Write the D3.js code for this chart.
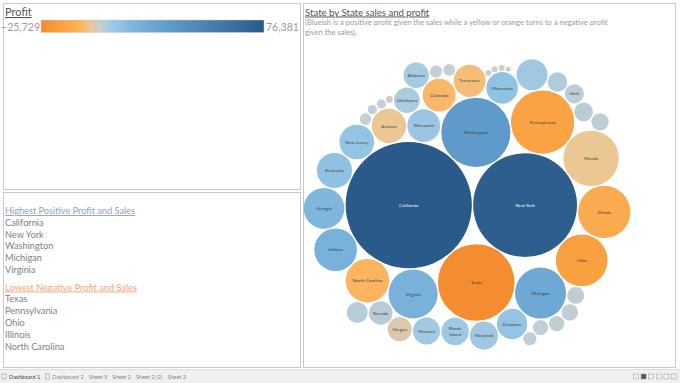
<!DOCTYPE html>
<html><head><meta charset="utf-8">
<script src="https://cdn.jsdelivr.net/npm/d3@7"></script>
<style>
html,body{margin:0;padding:0;background:#fff;overflow:hidden;}
svg{display:block;font-family:Lato,"Open Sans",sans-serif;}
</style></head>
<body><svg id="c" width="680" height="383"></svg>
<script>
// ---- data ----
const states = ["California","New York","Texas","Washington","Pennsylvania","Florida","Illinois","Ohio","Michigan","Virginia","North Carolina","Indiana","Georgia","Kentucky","New Jersey","Arizona","Wisconsin","Colorado","Tennessee","Minnesota","Massachusetts","Delaware","Maryland","Rhode Island","Missouri","Oklahoma","Alabama","Oregon","Nevada","Connecticut","Arkansas","Utah","Mississippi","Louisiana","Vermont","South Carolina","Nebraska","New Hampshire","Montana","New Mexico","Iowa","Idaho","Kansas","District of Columbia","Wyoming","South Dakota","Maine","West Virginia","North Dakota"];
const sales = [457688,310876,170188,138641,116512,89474,80166,78258,76270,70637,55603,53555,49096,36592,35764,35282,32115,32108,30662,29863,28634,27451,23706,22628,22205,19683,19511,17431,16729,13384,11678,11220,10771,9217,8929,8482,7465,7293,5589,4784,4580,4382,2914,2865,1603,1316,1271,1210,920];
const profit = [76381,74039,-25729,33403,-15560,-3399,-12608,-16971,24463,18598,-7491,18383,16250,11200,9773,-3428,8402,-6528,-5342,10823,6786,9977,7031,7286,6436,4854,5787,-1190,3317,3511,4009,2547,3172,2196,2245,1769,2037,1707,1833,1157,1184,827,836,1060,100,395,454,186,230];
const profitStops = [-25729,-16000,-7000,-3400,-1200,800,3300,5500,10000,18000,33000,76381];
const colorStops = ["#f48d2f","#f9a243","#fbb663","#ebc793","#dbc9ac","#c6cfd3","#b8ccd8","#a6cae2","#93c4e4","#79b2da","#5f9bcb","#2a5a8a"];
const topList = ["California","New York","Washington","Michigan","Virginia"];
const bottomList = ["Texas","Pennsylvania","Ohio","Illinois","North Carolina"];
const tabs = ["Dashboard 1","Dashboard 2","Sheet 5","Sheet 2","Sheet 2 (2)","Sheet 3"];
const legendTitle = "Profit";
const chartTitle = "State by State sales and profit";
const subtitle = ["(Blueish is a positive profit given the sales while a yellow or orange turns to a negative profit","given the sales)."];

// ---- drawing ----
const svg = d3.select("#c");
const color = d3.scaleLinear().domain(profitStops).range(colorStops).interpolate(d3.interpolateRgb).clamp(true);

// panels
const panelStroke = "#c9c9c9";
svg.append("rect").attr("x",3.5).attr("y",3.5).attr("width",297).attr("height",186).attr("fill","#fff").attr("stroke",panelStroke);
svg.append("rect").attr("x",3.5).attr("y",192.5).attr("width",297).attr("height",175).attr("fill","#fff").attr("stroke",panelStroke);
svg.append("rect").attr("x",303.5).attr("y",3.5).attr("width",372).attr("height",364).attr("fill","#fff").attr("stroke",panelStroke);

// legend
svg.append("text").attr("x",5).attr("y",16).attr("font-size",11).attr("fill","#555").attr("text-decoration","underline").text(legendTitle);
const defs = svg.append("defs");
const grad = defs.append("linearGradient").attr("id","lg").attr("x1","0%").attr("x2","100%");
const lx = d3.scaleLinear().domain([profitStops[0], profitStops[profitStops.length-1]]).range([41,264]);
const pd = lx.domain();
d3.range(0,1.0001,0.02).forEach(t=>{
  const v = pd[0] + t*(pd[1]-pd[0]);
  grad.append("stop").attr("offset",(t*100)+"%").attr("stop-color",color(v));
});
svg.append("rect").attr("x",lx.range()[0]).attr("y",20).attr("width",lx.range()[1]-lx.range()[0]).attr("height",12.5).attr("fill","url(#lg)").attr("stroke","#ccc").attr("stroke-width",0.5);
const fmt = d3.format(",");
svg.append("text").attr("x",lx.range()[0]-1).attr("y",30.5).attr("text-anchor","end").attr("font-size",10.5).attr("fill","#999").text(fmt(pd[0]));
svg.append("text").attr("x",lx.range()[1]+2).attr("y",30.5).attr("font-size",10.5).attr("fill","#999").text(fmt(pd[1]));

// text lists
const listY = d3.scaleLinear().domain([0,1]).range([0,11.8]);
function list(title, items, y0, col){
  svg.append("text").attr("x",5).attr("y",y0).attr("font-size",9.2).attr("fill",col).attr("text-decoration","underline").text(title);
  svg.selectAll(null).data(items).enter().append("text")
    .attr("x",5).attr("y",(d,i)=>y0+listY(i+1)).attr("font-size",9.2).attr("fill","#808080").text(d=>d);
}
list("Highest Positive Profit and Sales", topList, 214, "#8ea2bb");
list("Lowest Negative Profit and Sales", bottomList, 290.5, "#f2a67c");

// chart title
svg.append("text").attr("x",305).attr("y",15.5).attr("font-size",9.6).attr("fill","#555").attr("text-decoration","underline").text(chartTitle);
subtitle.forEach((s,i)=>svg.append("text").attr("x",305).attr("y",25+i*10.3).attr("font-size",7.55).attr("fill","#9a9a9a").text(s));

// ---- packed bubble layout (front-chain, nearest-to-origin) ----
function packFrontChain(nodes){
  const intersects = (a,b)=>{ const dr=a.r+b.r-1e-6, dx=b.x-a.x, dy=b.y-a.y; return dr>0 && dr*dr>dx*dx+dy*dy; };
  const place = (a,b,c)=>{
    const dx=b.x-a.x, dy=b.y-a.y, D=Math.sqrt(dx*dx+dy*dy);
    const ra=a.r+c.r, rb=b.r+c.r;
    const along=(ra*ra-rb*rb+D*D)/(2*D);
    const h=Math.sqrt(Math.max(0,ra*ra-along*along));
    const ux=dx/D, uy=dy/D;
    c.x=a.x+along*ux-h*uy; c.y=a.y+along*uy+h*ux;
  };
  const n=nodes.length;
  const A=nodes[0], B=nodes[1];
  A.x=-A.r; A.y=0; B.x=B.r; B.y=0;
  if(n<3){return;}
  const C=nodes[2];
  place(A,B,C);
  A.next=C; C.prev=A; C.next=B; B.prev=C; B.next=A; A.prev=B;
  let head=C;
  for(let i=3;i<n;i++){
    const c=nodes[i];
    let m=head, best=Infinity, p=head;
    do { const d=p.x*p.x+p.y*p.y; if(d<best){best=d;m=p;} p=p.next; } while(p!==head);
    let a=m, b=m.next;
    for(let guard=0; guard<500; guard++){
      place(a,b,c);
      let j=b.next, k=a.prev, sj=b.r, sk=a.r, hit=false;
      do {
        if(sj<=sk){
          if(intersects(j,c)){ b=j; a.next=b; b.prev=a; hit=true; break; }
          sj+=j.r; j=j.next;
        } else {
          if(intersects(k,c)){ a=k; a.next=b; b.prev=a; hit=true; break; }
          sk+=k.r; k=k.prev;
        }
      } while(j!==k.next);
      if(!hit) break;
    }
    a.next=c; c.prev=a; c.next=b; b.prev=c;
    head=c;
  }
}

const pad = 0.25, inset = 0.4;
const rScale = d3.scaleSqrt().domain([0, d3.max(sales)]).range([0, 63.5]);
const nodes = states.map((s,i)=>({name:s, sales:sales[i], profit:profit[i], rr:rScale(sales[i])}))
  .sort((a,b)=>b.sales-a.sales);
nodes.forEach(n=>n.r = n.rr + pad);
packFrontChain(nodes);
const x0 = d3.min(nodes,n=>n.x-n.rr), x1 = d3.max(nodes,n=>n.x+n.rr);
const y0 = d3.min(nodes,n=>n.y-n.rr), y1 = d3.max(nodes,n=>n.y+n.rr);
const cx = 467, cy = 204.5;
const g = svg.append("g").attr("transform",`translate(${cx-(x0+x1)/2},${cy-(y0+y1)/2})`);
g.selectAll("circle").data(nodes).enter().append("circle")
  .attr("cx",d=>d.x).attr("cy",d=>d.y).attr("r",d=>Math.max(0.5,d.rr-inset))
  .attr("fill",d=>color(d.profit));

const fs = 4.6;
const labels = g.selectAll("text.l").data(nodes).enter().append("text").attr("class","l")
  .attr("x",d=>d.x).attr("y",d=>d.y).attr("text-anchor","middle").attr("font-size",fs)
  .attr("fill",d=>d.profit>50000?"#ffffff":"#444");
labels.each(function(d){
  const t = d3.select(this);
  if (d.rr < 9) { t.remove(); return; }
  t.text(d.name);
  const w = this.getComputedTextLength();
  const avail = 2*d.rr*0.8;
  if (w <= avail) { t.attr("dy","0.35em"); return; }
  const words = d.name.split(" ");
  if (words.length>1){
    t.text(null);
    let ok = true;
    words.forEach((wd,i)=>{
      const sp = t.append("tspan").attr("x",d.x).attr("dy", i===0 ? (0.35-(words.length-1)*0.6)+"em" : "1.2em").text(wd);
      if (sp.node().getComputedTextLength() > avail) ok=false;
    });
    if (ok) return;
  }
  t.remove();
});

// bottom tab bar
svg.append("rect").attr("x",0).attr("y",369).attr("width",680).attr("height",14).attr("fill","#f0f0f0");
svg.append("line").attr("x1",0).attr("x2",680).attr("y1",369.5).attr("y2",369.5).attr("stroke","#dcdcdc");
let tx = 2;
tabs.forEach((t,i)=>{
  const gi = svg.append("g");
  if (i<2){
    gi.append("rect").attr("x",tx).attr("y",374).attr("width",4).attr("height",5).attr("fill","none").attr("stroke","#999").attr("stroke-width",0.6);
    tx += 7;
  }
  const tt = gi.append("text").attr("x",tx).attr("y",379).attr("font-size",5.6).attr("fill",i===0?"#444":"#888").text(t);
  tx += tt.node().getComputedTextLength()+5;
});
const ix = d3.scaleLinear().domain([0,5]).range([636,674]);
d3.range(6).forEach(i=>{
  svg.append("rect").attr("x",ix(i)-2.5).attr("y",374).attr("width",5).attr("height",5)
    .attr("fill",i===1?"#555":"none").attr("stroke","#999").attr("stroke-width",0.5);
});
</script></body></html>
